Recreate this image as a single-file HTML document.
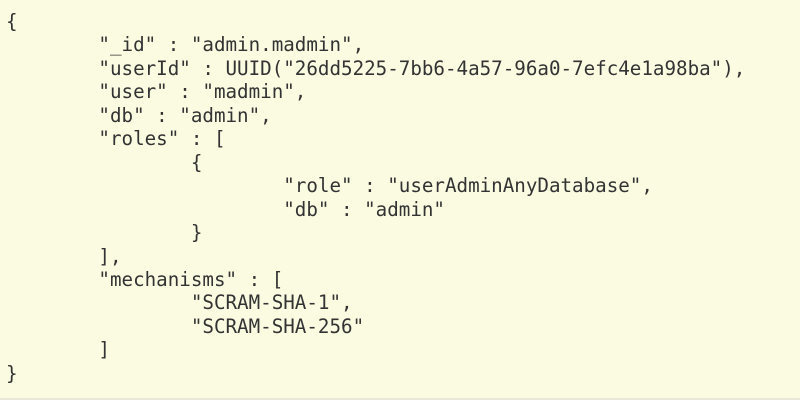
<!DOCTYPE html>
<html><head><style>
html,body{margin:0;padding:0;}
body{width:800px;height:400px;background:#fbfbe2;overflow:hidden;position:relative;}
pre{margin:0;position:absolute;left:6px;top:10px;font-family:"DejaVu Sans Mono","Liberation Mono",monospace;font-size:19.2px;line-height:23.45px;color:#333;tab-size:8;}
.b{position:absolute;left:0;right:0;bottom:0;height:2px;background:#e8e8d8;}
</style></head><body>
<pre>{
	"_id" : "admin.madmin",
	"userId" : UUID("26dd5225-7bb6-4a57-96a0-7efc4e1a98ba"),
	"user" : "madmin",
	"db" : "admin",
	"roles" : [
		{
			"role" : "userAdminAnyDatabase",
			"db" : "admin"
		}
	],
	"mechanisms" : [
		"SCRAM-SHA-1",
		"SCRAM-SHA-256"
	]
}</pre>
<div class="b"></div>
</body></html>
